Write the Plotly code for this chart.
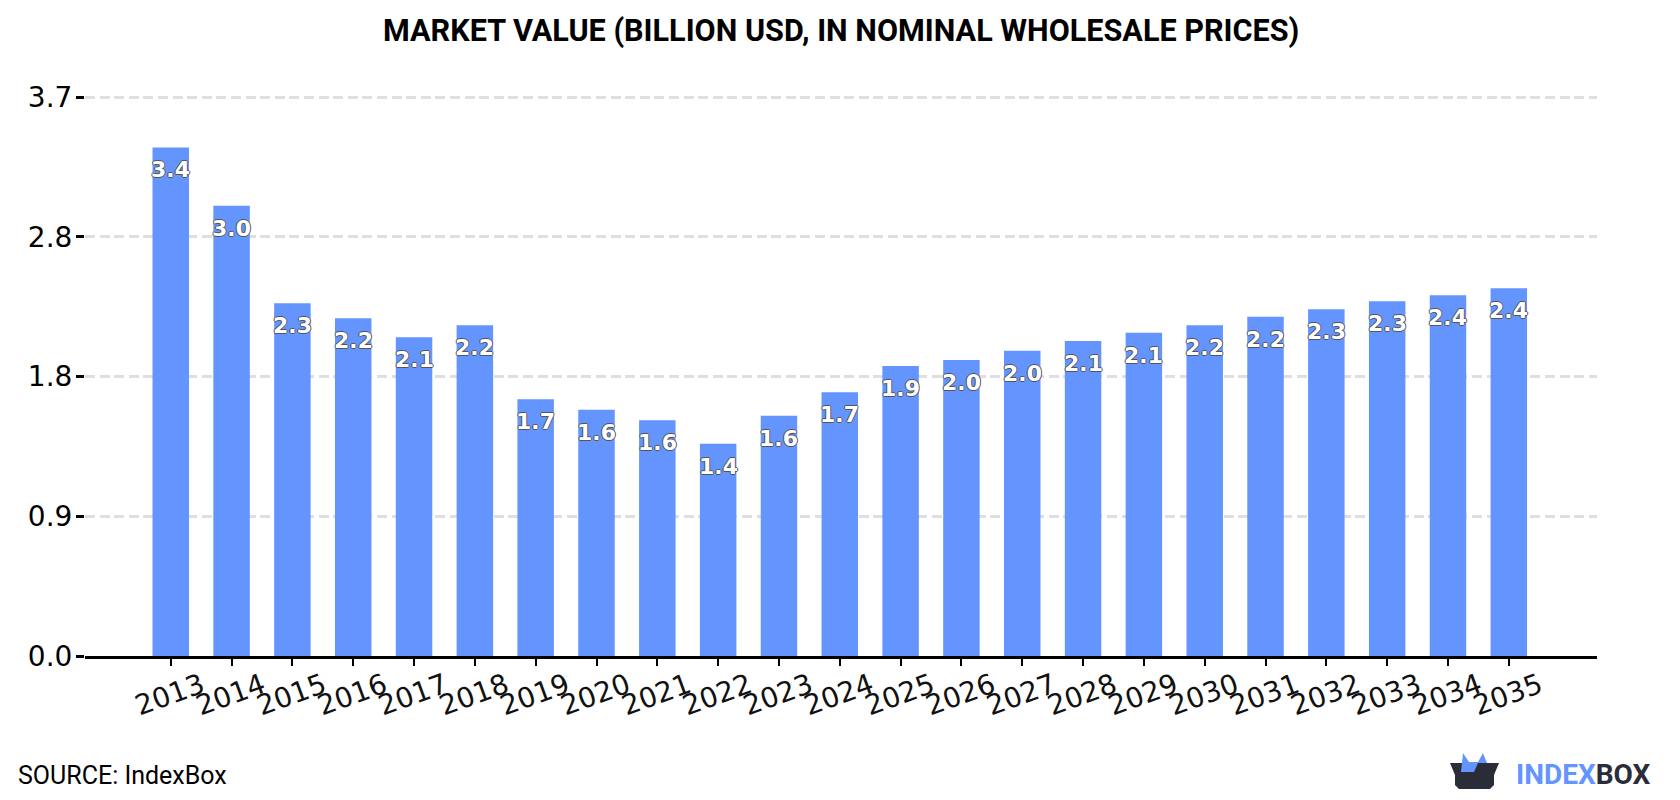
import plotly.graph_objects as go

years = ["2013", "2014", "2015", "2016", "2017", "2018", "2019", "2020", "2021", "2022", "2023", "2024",
         "2025", "2026", "2027", "2028", "2029", "2030", "2031", "2032", "2033", "2034", "2035"]
market_value = [3.366, 2.98, 2.335, 2.235, 2.11, 2.19, 1.70, 1.63, 1.56, 1.405, 1.59, 1.745,
                1.92, 1.96, 2.02, 2.085, 2.14, 2.19, 2.245, 2.295, 2.348, 2.388, 2.434]
y_tick_values = [0, 0.925, 1.85, 2.775, 3.7]
y_tick_labels = ["0.0", "0.9", "1.8", "2.8", "3.7"]

W, H = 1680, 800
LEFT, RIGHT, TOP, BOTTOM = 85, 83, 94, 144
BLUE = "#6495ff"
DARK = "#2a2c38"
OUTLINE = "-1px 0 #555, 1px 0 #555, 0 -1px #555, 0 1px #555"


def paper_x(x):
    return (x - LEFT) / (W - LEFT - RIGHT)


def paper_y(y):
    return 1 - (y - TOP) / (H - TOP - BOTTOM)


def logo_path(points):
    """Closed SVG path for logo outlines given in page pixels."""
    body = " L".join(f"{paper_x(x):.5f},{paper_y(y):.5f}" for x, y in points)
    return f"M{body} Z"


fig = go.Figure(go.Bar(x=years, y=market_value, width=0.6, marker_color=BLUE, marker_line_width=0))

# Value labels sit just under the top of each bar
for position, value in enumerate(market_value):
    fig.add_annotation(
        x=position, y=value, text=f"{value:.1f}", showarrow=False, yanchor="top", yshift=-8,
        font=dict(family="DejaVu Sans", size=22, color="white", weight="bold", shadow=OUTLINE),
    )

fig.add_annotation(
    xref="paper", yref="paper", x=0.5, y=paper_y(31), xanchor="center", yanchor="middle", showarrow=False,
    text="<b>MARKET VALUE (BILLION USD, IN NOMINAL WHOLESALE PRICES)</b>",
    font=dict(family="Roboto", size=30.6, color="black"),
)
fig.add_annotation(
    xref="paper", yref="paper", x=paper_x(16), y=paper_y(775),
    xanchor="left", yanchor="middle", showarrow=False, text="SOURCE: IndexBox",
    font=dict(family="Roboto", size=25, color="black"),
)
fig.add_annotation(
    xref="paper", yref="paper", x=paper_x(1514), y=paper_y(774),
    xanchor="left", yanchor="middle", showarrow=False,
    text=f"<b><span style='color:{BLUE}'>INDEX</span><span style='color:{DARK}'>BOX</span></b>",
    font=dict(family="Roboto", size=28),
)

# Logo: dark box with a blue crown rising out of it
box = [(1450, 763), (1499, 763), (1494, 775), (1494, 785), (1490, 789), (1459, 789), (1455, 785), (1455, 775)]
crown = [(1461, 772), (1463, 753), (1469, 762), (1478, 762), (1483, 753), (1487, 763), (1478, 763), (1474, 772)]
for outline, colour in ((box, DARK), (crown, BLUE)):
    fig.add_shape(type="path", xref="paper", yref="paper", path=logo_path(outline),
                  fillcolor=colour, line_width=0, layer="above")

fig.update_layout(
    width=W, height=H,
    margin=dict(l=LEFT, r=RIGHT, t=TOP, b=BOTTOM, pad=0),
    paper_bgcolor="white", plot_bgcolor="white",
    showlegend=False, bargap=0.4,
    font=dict(family="DejaVu Sans", color="black"),
)
fig.update_xaxes(
    type="category", range=[-1.41, 23.45], showgrid=False, showline=True, linecolor="black", linewidth=2.5,
    ticks="outside", ticklen=7, tickwidth=2, tickcolor="black", tickangle=-20,
    ticklabelshift=31, ticklabelstandoff=-7, tickfont=dict(family="DejaVu Sans", size=28, color="#111"),
)
# The axis runs a hair past 3.7 so the top gridline is still drawn
fig.update_yaxes(
    range=[0, 3.72], tickmode="array", tickvals=y_tick_values, ticktext=y_tick_labels,
    showgrid=True, gridcolor="#dfdfdf", gridwidth=2.5, griddash="10px,4.6px", zeroline=False,
    showline=False, ticks="outside", ticklen=8, tickwidth=2.5, tickcolor="black",
    ticklabelstandoff=-2, tickfont=dict(family="DejaVu Sans", size=28, color="black"),
)

fig.write_html("out.html")
